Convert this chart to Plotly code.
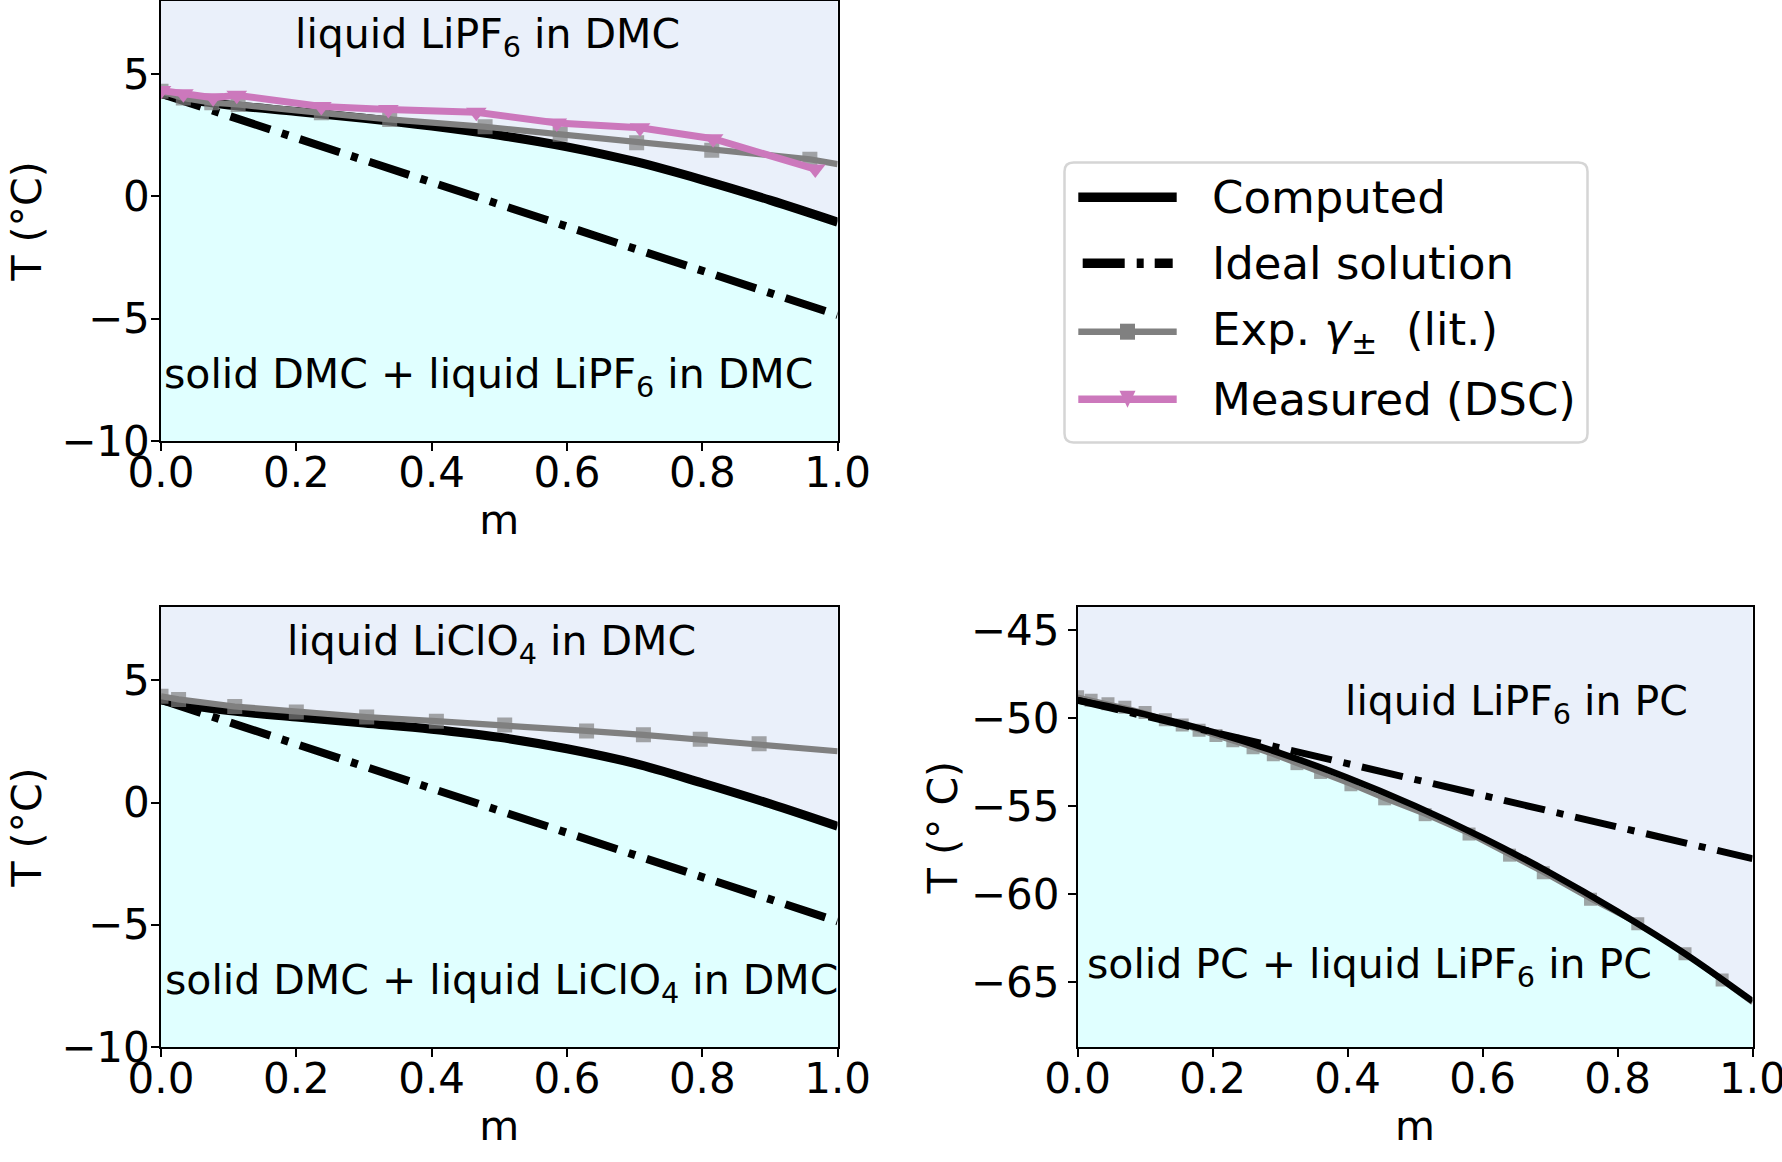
import plotly.graph_objects as go

# ---------------- data ----------------
# Panel A: LiPF6 in DMC
m_comp_a = [0.0, 0.05, 0.1, 0.2, 0.3, 0.4, 0.5, 0.6, 0.7, 0.8, 0.9, 1.0]
T_comp_a = [4.2, 3.93, 3.74, 3.47, 3.2, 2.88, 2.5, 2.03, 1.43, 0.68, -0.15, -1.05]
m_ideal_a = [0.0, 0.5, 1.0]
T_ideal_a = [4.2, -0.3, -4.85]
m_exp_a = [0.0, 0.033, 0.075, 0.114, 0.237, 0.338, 0.479, 0.59, 0.703, 0.814, 0.959, 1.0]
T_exp_a = [4.3, 4.03, 3.83, 3.76, 3.42, 3.15, 2.85, 2.54, 2.2, 1.89, 1.52, 1.32]
m_dsc_a = [0.0, 0.033, 0.077, 0.112, 0.237, 0.336, 0.466, 0.585, 0.708, 0.816, 0.967]
T_dsc_a = [4.33, 4.2, 4.04, 4.14, 3.68, 3.56, 3.44, 3.0, 2.81, 2.36, 1.12]

# Panel B: LiClO4 in DMC
m_comp_b = [0.0, 0.05, 0.1, 0.2, 0.3, 0.4, 0.5, 0.6, 0.7, 0.8, 0.9, 1.0]
T_comp_b = [4.2, 3.95, 3.76, 3.5, 3.25, 3.0, 2.67, 2.2, 1.6, 0.8, -0.05, -0.97]
m_ideal_b = [0.0, 0.5, 1.0]
T_ideal_b = [4.2, -0.3, -4.86]
m_exp_b = [0.0, 0.026, 0.109, 0.2, 0.304, 0.407, 0.508, 0.629, 0.713, 0.797, 0.884, 1.0]
T_exp_b = [4.35, 4.22, 3.93, 3.7, 3.5, 3.33, 3.17, 2.93, 2.77, 2.59, 2.41, 2.1]

# Panel C: LiPF6 in PC
m_comp_c = [0.0, 0.1, 0.2, 0.3, 0.4, 0.5, 0.6, 0.7, 0.8, 0.9, 1.0]
T_comp_c = [-49.0, -49.8, -50.8, -52.0, -53.4, -55.0, -56.8, -58.8, -61.0, -63.4, -66.1]
m_ideal_c = [0.0, 0.5, 1.0]
T_ideal_c = [-49.0, -53.5, -58.0]
m_exp_c = [0.0, 0.02, 0.045, 0.07, 0.1, 0.13, 0.155, 0.18, 0.205, 0.23, 0.26, 0.29,
           0.325, 0.36, 0.405, 0.455, 0.515, 0.58, 0.64, 0.69, 0.76, 0.83, 0.9, 0.955, 1.0]
T_exp_c = [-48.8, -49.0, -49.2, -49.4, -49.7, -50.1, -50.4, -50.7, -51.0, -51.3, -51.7, -52.1,
           -52.6, -53.1, -53.8, -54.6, -55.5, -56.6, -57.8, -58.8, -60.3, -61.7, -63.4, -64.9, -66.2]

x_ticks = [0.0, 0.2, 0.4, 0.6, 0.8, 1.0]
y_ticks_dmc = [-10, -5, 0, 5]
y_ticks_pc = [-65, -60, -55, -50, -45]
y_range_dmc = [-10, 8]
y_range_pc = [-68.7, -43.7]

legend_labels = ["Computed", "Ideal solution", "Exp. <i>γ</i><sub>±</sub>  (lit.)", "Measured (DSC)"]

# ---------------- style ----------------
W, H = 1782, 1162
FONT = "DejaVu Sans"
LAV = "#EAF0FA"
CYAN = "#E0FFFF"
GRAY = "#808080"
PINK = "#CC78BC"
DASHDOT = "42px,12px,7px,12px"


def px(x):
    return x / W


def py(y):
    return 1 - y / H


fig = go.Figure()


def add_panel(ax, m_comp, T_comp, m_ideal, T_ideal, m_exp, T_exp, ybase,
              m_dsc=None, T_dsc=None, comp_w=9, ideal_w=8, exp_w=6.2, exp_ms=15,
              gray_below=False):
    xa, ya = "x" + ax, "y" + ax
    # fill baseline and lower (solid) region
    fig.add_trace(go.Scatter(x=m_comp, y=[ybase] * len(m_comp), mode="lines",
                             line=dict(width=0, color=CYAN), xaxis=xa, yaxis=ya,
                             showlegend=False, hoverinfo="skip"))
    fig.add_trace(go.Scatter(x=m_comp, y=T_comp, mode="lines", fill="tonexty",
                             fillcolor=CYAN, line=dict(width=0, shape="spline", color=CYAN),
                             xaxis=xa, yaxis=ya, showlegend=False, hoverinfo="skip"))
    sizes = [exp_ms] * (len(m_exp) - 1) + [0]
    exp_tr = go.Scatter(x=m_exp, y=T_exp, mode="lines+markers",
                        line=dict(color=GRAY, width=exp_w),
                        marker=dict(symbol="square", size=sizes, color=GRAY, line=dict(width=0)),
                        xaxis=xa, yaxis=ya, showlegend=False)
    if gray_below:
        fig.add_trace(exp_tr)
    fig.add_trace(go.Scatter(x=m_comp, y=T_comp, mode="lines",
                             line=dict(color="black", width=comp_w, shape="spline"),
                             xaxis=xa, yaxis=ya, showlegend=False))
    fig.add_trace(go.Scatter(x=m_ideal, y=T_ideal, mode="lines",
                             line=dict(color="black", width=ideal_w, dash=DASHDOT),
                             xaxis=xa, yaxis=ya, showlegend=False))
    if not gray_below:
        fig.add_trace(exp_tr)
    if m_dsc is not None:
        fig.add_trace(go.Scatter(x=m_dsc, y=T_dsc, mode="lines+markers",
                                 line=dict(color=PINK, width=7),
                                 marker=dict(symbol="triangle-down", size=18, color=PINK,
                                             line=dict(width=0)),
                                 xaxis=xa, yaxis=ya, showlegend=False))


add_panel("", m_comp_a, T_comp_a, m_ideal_a, T_ideal_a, m_exp_a, T_exp_a, y_range_dmc[0],
          m_dsc_a, T_dsc_a)
add_panel("2", m_comp_b, T_comp_b, m_ideal_b, T_ideal_b, m_exp_b, T_exp_b, y_range_dmc[0])
add_panel("3", m_comp_c, T_comp_c, m_ideal_c, T_ideal_c, m_exp_c, T_exp_c, y_range_pc[0],
          comp_w=6.5, ideal_w=7, exp_w=4.5, exp_ms=13, gray_below=True)

tickfont = dict(family=FONT, size=42, color="black")
titlefont = dict(family=FONT, size=41, color="black")


def xaxis(dom, anchor):
    return dict(domain=dom, range=[0, 1], tickvals=x_ticks, tickformat=".1f",
                showline=True, linecolor="black", linewidth=1.6, mirror=True,
                ticks="outside", ticklen=8, tickwidth=1.6, tickcolor="black",
                showgrid=False, zeroline=False, tickfont=tickfont, anchor=anchor,
                ticklabelstandoff=-14, ticklabeloverflow="allow",
                automargin=False, title=dict(text="m", font=titlefont, standoff=9))


def yaxis(dom, rng, tv, title, anchor, standoff, lstand):
    return dict(domain=dom, range=rng, tickvals=tv,
                showline=True, linecolor="black", linewidth=1.6, mirror=True,
                ticks="outside", ticklen=8, tickwidth=1.6, tickcolor="black",
                showgrid=False, zeroline=False, tickfont=tickfont, anchor=anchor,
                ticklabelstandoff=lstand, ticklabeloverflow="allow",
                automargin=False, title=dict(text=title, font=titlefont, standoff=standoff))


xl = [px(161), px(837.6)]
xr = [px(1077.6), px(1752.5)]
yt = [py(441), py(0.8)]
yb = [py(1047), py(607)]

fig.update_layout(
    width=W, height=H, margin=dict(l=0, r=0, t=0, b=0, autoexpand=False),
    paper_bgcolor="white", plot_bgcolor=LAV,
    font=dict(family=FONT, color="black"),
    xaxis=xaxis(xl, "y"), yaxis=yaxis(yt, y_range_dmc, y_ticks_dmc, "T (°C)", "x", 7, -7),
    xaxis2=xaxis(xl, "y2"), yaxis2=yaxis(yb, y_range_dmc, y_ticks_dmc, "T (°C)", "x2", 7, -7),
    xaxis3=xaxis(xr, "y3"), yaxis3=yaxis(yb, y_range_pc, y_ticks_pc, "T (° C)", "x3", 0, 0),
    showlegend=False,
)

annfont = dict(family=FONT, size=41, color="black")
anns = [
    ("liquid LiPF<sub>6</sub> in DMC", "x", "y", 0.483, 6.5),
    ("solid DMC + liquid LiPF<sub>6</sub> in DMC", "x", "y", 0.484, -7.4),
    ("liquid LiClO<sub>4</sub> in DMC", "x2", "y2", 0.488, 6.5),
    ("solid DMC + liquid LiClO<sub>4</sub> in DMC", "x2", "y2", 0.503, -7.4),
    ("liquid LiPF<sub>6</sub> in PC", "x3", "y3", 0.651, -49.2),
    ("solid PC + liquid LiPF<sub>6</sub> in PC", "x3", "y3", 0.433, -64.15),
]
for text, xr_, yr_, xv, yv in anns:
    fig.add_annotation(text=text, x=xv, y=yv, xref=xr_, yref=yr_, showarrow=False,
                       font=annfont, xanchor="center", yanchor="middle")

# ---------------- legend (drawn manually) ----------------
lx0, lx1, ly0, ly1, r = 1064.5, 1587.5, 162.5, 442.5, 9
rx, ry = r / W, r / H
path = (f"M {px(lx0)+rx},{py(ly0)} L {px(lx1)-rx},{py(ly0)} Q {px(lx1)},{py(ly0)} {px(lx1)},{py(ly0)-ry} "
        f"L {px(lx1)},{py(ly1)+ry} Q {px(lx1)},{py(ly1)} {px(lx1)-rx},{py(ly1)} "
        f"L {px(lx0)+rx},{py(ly1)} Q {px(lx0)},{py(ly1)} {px(lx0)},{py(ly1)+ry} "
        f"L {px(lx0)},{py(ly0)-ry} Q {px(lx0)},{py(ly0)} {px(lx0)+rx},{py(ly0)} Z")
fig.add_shape(type="path", path=path, xref="paper", yref="paper",
              line=dict(color="#D5D5D5", width=2.5), fillcolor="white", layer="above")

rows = [197.3, 263.3, 331.7, 399.3]
sx0, sx1, sxc = 1078.3, 1176.7, 1127.5
fig.add_shape(type="line", xref="paper", yref="paper", x0=px(sx0), x1=px(sx1),
              y0=py(rows[0]), y1=py(rows[0]), line=dict(color="black", width=9.5))
fig.add_shape(type="line", xref="paper", yref="paper", x0=px(1082.7), x1=px(1172.7),
              y0=py(rows[1]), y1=py(rows[1]), line=dict(color="black", width=9.5, dash="42px,12px,7px,11px"))
fig.add_shape(type="line", xref="paper", yref="paper", x0=px(sx0), x1=px(sx1),
              y0=py(rows[2]), y1=py(rows[2]), line=dict(color=GRAY, width=6.5))
fig.add_shape(type="rect", xref="paper", yref="paper", x0=px(sxc - 7.5), x1=px(sxc + 7.5),
              y0=py(rows[2] + 8), y1=py(rows[2] - 8), line=dict(width=0), fillcolor=GRAY)
fig.add_shape(type="line", xref="paper", yref="paper", x0=px(sx0), x1=px(sx1),
              y0=py(rows[3]), y1=py(rows[3]), line=dict(color=PINK, width=7.5))
tri = (f"M {px(sxc-8)},{py(rows[3]-8.5)} L {px(sxc+8)},{py(rows[3]-8.5)} "
       f"L {px(sxc)},{py(rows[3]+8.5)} Z")
fig.add_shape(type="path", path=tri, xref="paper", yref="paper", line=dict(width=0), fillcolor=PINK)

legfont = dict(family=FONT, size=45, color="black")
for lab, yrow in zip(legend_labels, rows):
    fig.add_annotation(text=lab, x=px(1210), y=py(yrow), xref="paper", yref="paper",
                       showarrow=False, font=legfont, xanchor="left", yanchor="middle")

fig.write_html("out.html")
